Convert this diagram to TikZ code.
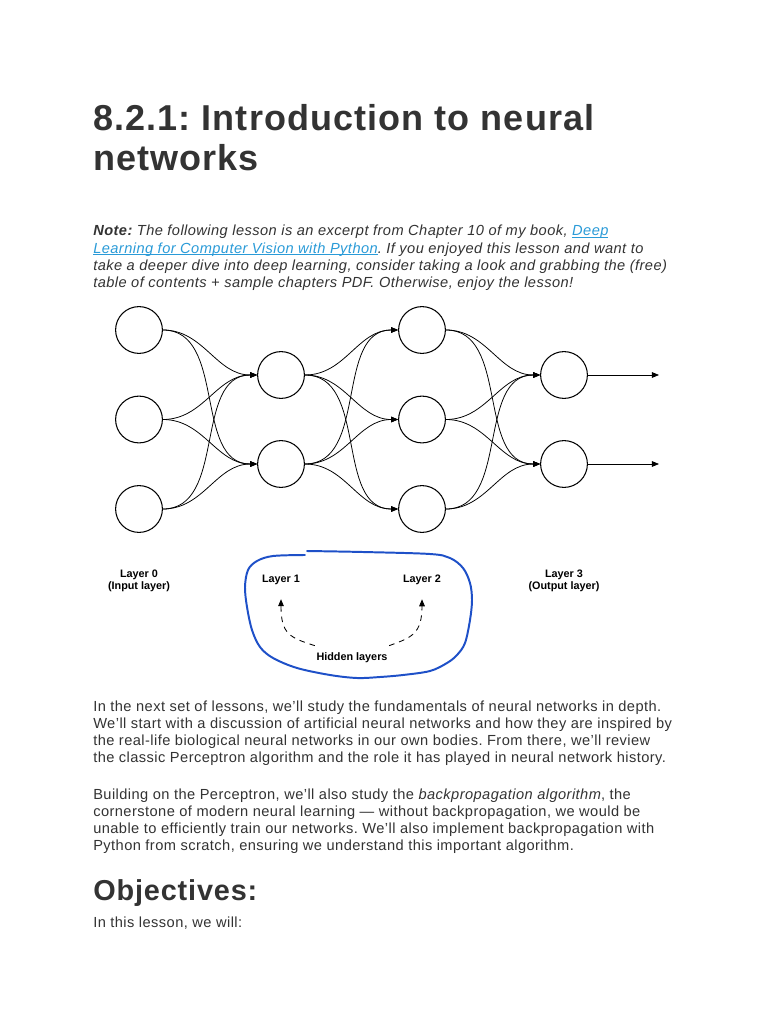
\documentclass[tikz,border=0pt]{standalone}
\usepackage{fontspec}
\setmainfont{Liberation Sans}
\newfontfamily\headfont[LetterSpace=3]{Liberation Sans}
\newfontfamily\bodyfont[LetterSpace=3]{Liberation Sans}
\usepackage{xcolor}
\usepackage{tikz}
\usetikzlibrary{arrows.meta,positioning}
\definecolor{inkgrey}{HTML}{333333}
\definecolor{linkblue}{HTML}{2A9BD8}
\definecolor{penblue}{HTML}{1E50C8}
\newcommand{\weblink}[1]{\textcolor{linkblue}{\setbox0\hbox{#1}\rlap{\rule[-1.6pt]{\wd0}{0.55pt}}\box0}}
\frenchspacing

\begin{document}
\begin{tikzpicture}[
  x=0.025cm, y=-0.025cm,
  heading/.style={anchor=base west, inner sep=0, text=inkgrey, font=\headfont\bfseries\fontsize{25.6}{30}\selectfont},
  subheading/.style={anchor=base west, inner sep=0, text=inkgrey, font=\headfont\bfseries\fontsize{20.5}{24}\selectfont},
  body/.style={anchor=base west, inner sep=0, text=inkgrey, font=\bodyfont\fontsize{10.4}{12}\selectfont},
  neuron/.style={circle, draw, line width=0.75pt, minimum size=1.17cm, inner sep=0},
  syn/.style={-{Triangle[length=5pt,width=4pt]}, line width=0.55pt},
  layertag/.style={align=center, inner sep=1pt, font=\bfseries\fontsize{7.7}{8.5}\selectfont},
  hidarr/.style={-{Triangle[length=5pt,width=4pt]}, dash pattern=on 4pt off 3.5pt, line width=0.6pt},
  scribble/.style={penblue, line width=1.4pt, line cap=round, line join=round}
]
\fill[white] (0,0) rectangle (768,1024);
\useasboundingbox (0,0) rectangle (768,1024);

\node[heading] (t1) at (93,131) {8.2.1: Introduction to neural};
\node[heading] (t2) at (93,171) {networks};

\node[body] (n1) at (93,236) {\textit{\textbf{Note:} The following lesson is an excerpt from Chapter 10 of my book, \weblink{Deep}}};
\node[body] (n2) at (93,253) {\textit{\weblink{Learning for Computer Vision with Python}. If you enjoyed this lesson and want to}};
\node[body] (n3) at (93,270) {\textit{take a deeper dive into deep learning, consider taking a look and grabbing the (free)}};
\node[body] (n4) at (93,287) {\textit{table of contents + sample chapters PDF. Otherwise, enjoy the lesson!}};

\node[neuron] (a1) at (139,330) {};
\node[neuron] (a2) at (139,419.5) {};
\node[neuron] (a3) at (139,509) {};
\node[neuron] (b1) at (281,375) {};
\node[neuron] (b2) at (281,464) {};
\node[neuron] (c1) at (422,330) {};
\node[neuron] (c2) at (422,419.5) {};
\node[neuron] (c3) at (422,509) {};
\node[neuron] (d1) at (564,375) {};
\node[neuron] (d2) at (564,464) {};
\coordinate (o1) at (659,375);
\coordinate (o2) at (659,464);

\draw[syn] (a1.east) to[out=0,in=180] (b1.west);
\draw[syn] (a1.east) to[out=0,in=180] (b2.west);
\draw[syn] (a2.east) to[out=0,in=180] (b1.west);
\draw[syn] (a2.east) to[out=0,in=180] (b2.west);
\draw[syn] (a3.east) to[out=0,in=180] (b1.west);
\draw[syn] (a3.east) to[out=0,in=180] (b2.west);
\draw[syn] (b1.east) to[out=0,in=180] (c1.west);
\draw[syn] (b1.east) to[out=0,in=180] (c2.west);
\draw[syn] (b1.east) to[out=0,in=180] (c3.west);
\draw[syn] (b2.east) to[out=0,in=180] (c1.west);
\draw[syn] (b2.east) to[out=0,in=180] (c2.west);
\draw[syn] (b2.east) to[out=0,in=180] (c3.west);
\draw[syn] (c1.east) to[out=0,in=180] (d1.west);
\draw[syn] (c2.east) to[out=0,in=180] (d1.west);
\draw[syn] (c3.east) to[out=0,in=180] (d1.west);
\draw[syn] (c1.east) to[out=0,in=180] (d2.west);
\draw[syn] (c2.east) to[out=0,in=180] (d2.west);
\draw[syn] (c3.east) to[out=0,in=180] (d2.west);
\draw[syn] (d1.east) -- (o1);
\draw[syn] (d2.east) -- (o2);

\node[layertag] (lab0) at (139,581) {Layer 0\\(Input layer)};
\node[layertag] (lab1) at (281,580) {Layer 1};
\node[layertag] (lab2) at (422,580) {Layer 2};
\node[layertag] (lab3) at (564,581) {Layer 3\\(Output layer)};
\node[layertag] (hid) at (352,658) {Hidden layers};

\draw[hidarr] ([yshift=4pt]hid.north west) .. controls +(-25,-8) and +(0,35) .. ([yshift=-9pt]lab1.south);
\draw[hidarr] ([yshift=4pt]hid.north east) .. controls +(22,-8) and +(0,35) .. ([yshift=-9pt]lab2.south);

\draw[scribble] plot[smooth, tension=0.55] coordinates {(307,551) (363,552) (430,554) (450,558) (463,568) (470,583) (472,600) (470,620) (465,643) (457,655) (447,663) (430,671) (403,675) (380,677) (357,678) (330,675) (297,668) (273,658) (260,647) (252,630) (247,607) (245,587) (248,570) (257,561) (273,556) (305,555)};

\node[body] (p1) at (93,711) {In the next set of lessons, we’ll study the fundamentals of neural networks in depth.};
\node[body] (p2) at (93,728) {We’ll start with a discussion of artificial neural networks and how they are inspired by};
\node[body] (p3) at (93,745) {the real-life biological neural networks in our own bodies. From there, we’ll review};
\node[body] (p4) at (93,762) {the classic Perceptron algorithm and the role it has played in neural network history.};

\node[body] (q1) at (93,799) {Building on the Perceptron, we’ll also study the \textit{backpropagation algorithm}, the};
\node[body] (q2) at (93,816) {cornerstone of modern neural learning — without backpropagation, we would be};
\node[body] (q3) at (93,833) {unable to efficiently train our networks. We’ll also implement backpropagation with};
\node[body] (q4) at (93,850) {Python from scratch, ensuring we understand this important algorithm.};

\node[subheading] (obj) at (93,900) {Objectives:};
\node[body] (les) at (93,927) {In this lesson, we will:};
\end{tikzpicture}
\end{document}
